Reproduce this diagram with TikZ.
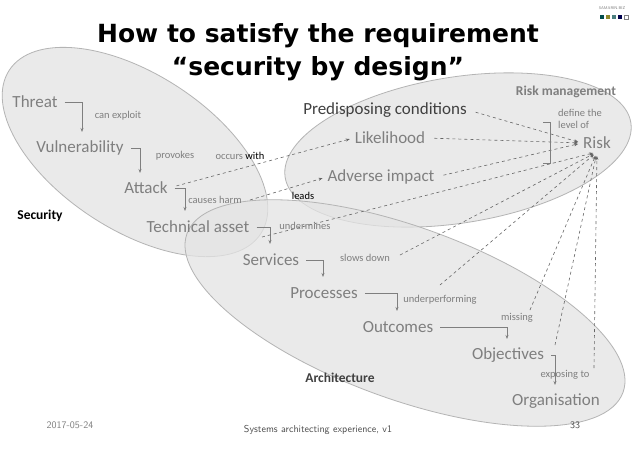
\documentclass[tikz,border=0pt]{standalone}
\usepackage{fontspec}
\setmainfont{Carlito}
\newfontfamily\titlefont{DejaVu Sans}
\usetikzlibrary{arrows.meta}
\definecolor{tg}{HTML}{7F7F7F}
\definecolor{eg}{HTML}{E4E4E4}
\definecolor{eb}{HTML}{B4B4B4}
\begin{document}
\begin{tikzpicture}[x=1pt,y=-1pt,
 ell/.style={draw=eb,fill=eg,fill opacity=0.75,line width=0.8pt},
 big/.style={text=tg,font=\fontsize{17}{19}\selectfont,inner sep=1pt},
 lab/.style={text=tg,font=\fontsize{10.5}{12}\selectfont,inner sep=1pt},
 elb/.style={draw=tg,-{Stealth[length=4pt]},line width=0.6pt,shorten <=6pt,shorten >=3pt},
 dsh/.style={draw=tg!80!black,dashed,-{Stealth[length=4pt]},line width=0.6pt,shorten <=8pt,shorten >=4pt},
 hd/.style={font=\bfseries\fontsize{13.5}{15}\selectfont,inner sep=1pt}]
\useasboundingbox (0,0) rectangle (638,451);
\fill[white] (0,0) rectangle (638,451);
\draw[ell,rotate around={-33:(135,152)}] (135,152) ellipse (150 and 78);
\draw[ell,rotate around={9:(458,150)}] (458,150) ellipse (175 and 73);
\draw[ell,rotate around={-20:(405,313)}] (405,313) ellipse (232 and 86);
\node[font=\titlefont\bfseries\fontsize{25}{33}\selectfont,align=center] (title) at (318,52) {How to satisfy the requirement\\“security by design”};
\node[font=\fontsize{4}{4}\selectfont\sffamily,text=tg,inner sep=0] (logo) at (612,8) {SAMARIN.BIZ};
\foreach \i/\c in {0/teal!60!black,1/olive!70!gray,2/gray!60!teal,3/blue!30!black}{\fill[\c] (600+\i*6,15) rectangle ++(4,4);}
\draw[gray] (624,15) rectangle ++(4,4);
\node[big] (thr) at (35,102) {Threat};
\node[big] (vul) at (80,148) {Vulnerability};
\node[big] (att) at (146,188) {Attack};
\node[big] (tec) at (198,227) {Technical asset};
\node[big] (ser) at (271,260) {Services};
\node[big] (pro) at (324,293) {Processes};
\node[big] (out) at (398,327) {Outcomes};
\node[big] (obj) at (508,355) {Objectives};
\node[big] (org) at (556,401) {Organisation};
\node[big,text=black!75] (pre) at (385,110) {Predisposing conditions};
\node[big] (lik) at (390,138) {Likelihood};
\node[big] (adv) at (381,177) {Adverse impact};
\node[big] (risk) at (597,143) {Risk};
\node[lab] at (118,116) {can exploit};
\node[lab] at (175,156) {provokes};
\node[lab] at (215,200) {causes harm};
\node[lab] at (305,226) {undermines};
\node[lab] at (365,258) {slows down};
\node[lab] at (440,300) {underperforming};
\node[lab] at (517,318) {missing};
\node[lab] at (565,375) {exposing to};
\node[lab,align=left] at (580,119) {define the\\level of};
\node[lab] at (240,156) {occurs \textcolor{black}{with}};
\node[lab,text=black] at (303,196) {leads};
\node[hd] at (40,216) {Security};
\node[hd,text=tg] at (566,92) {Risk management};
\node[hd,text=black!75] at (340,378) {Architecture};
\draw[elb] (thr.east) -- (82,102) -- (82,135);
\draw[elb] (vul.east) -- (140,148) -- (140,176);
\draw[elb] (att.east) -- (185,188) -- (185,214);
\draw[elb] (tec.east) -- (270,227) -- (270,247);
\draw[elb] (ser.east) -- (323,260) -- (323,280);
\draw[elb] (pro.east) -- (397,293) -- (397,314);
\draw[elb] (out.east) -- (507,327) -- (507,342);
\draw[elb] (obj.east) -- (555,355) -- (555,388);
\draw[dsh] (att.east) -- (lik.west);
\draw[dsh,shorten <=0pt] (250,200) -- (adv.west);
\draw[dsh] (pre.east) -- (risk.west);
\draw[dsh] (lik.east) -- (risk.west);
\draw[dsh] (adv.east) -- (risk.west);
\draw[tg] (543,122) -- (550,122) -- (550,163) -- (543,163);
\coordinate (rb) at (597,152);
\draw[dsh,shorten <=0pt] (262,237) -- (rb);
\draw[dsh,shorten <=0pt] (400,255) -- (rb);
\draw[dsh,shorten <=0pt] (440,285) -- (rb);
\draw[dsh,shorten <=0pt] (530,310) -- (rb);
\draw[dsh,shorten <=0pt] (555,345) -- (rb);
\draw[dsh,shorten <=0pt] (594,368) -- (rb);
\node[font=\fontsize{10}{11}\selectfont\sffamily,text=tg] at (70,425) {2017-05-24};
\node[font=\fontsize{10}{11}\selectfont\sffamily,text=black!70] at (318,430) {Systems architecting experience, v1};
\node[font=\fontsize{10}{11}\selectfont\sffamily,text=black!70] at (575,425) {33};
\end{tikzpicture}
\end{document}
